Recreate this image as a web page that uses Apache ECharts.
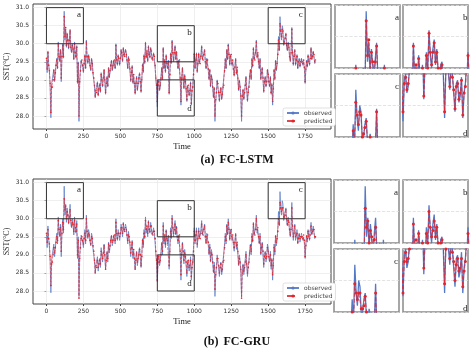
<!DOCTYPE html>
<html><head><meta charset="utf-8">
<script src="https://cdn.jsdelivr.net/npm/echarts@6/dist/echarts.min.js"></script>
<style>html,body{margin:0;padding:0;background:#fff}#c{width:474px;height:349px}</style>
</head><body><div id="c"></div>
<script>
// ---- data (time step of 5) ----
const timeStart = 0;
const timeStep = 5;
const observed = [
29.55,29.2,29.8,29.45,29.2,28.8,27.95,28.9,28.85,28.95,29.3,28.95,29.15,29.45,29.6,29.3,30.05,29.6,29.5,29.85,
28.95,29.7,30.0,29.6,30.9,30.1,30.4,29.9,30.3,30.05,29.85,30.15,30.4,29.85,29.75,30.0,29.9,29.55,30.05,29.7,
29.6,29.95,28.9,29.5,27.85,29.0,29.3,29.55,29.6,29.35,29.2,29.5,29.7,29.3,30.1,29.6,29.45,29.7,29.6,29.35,
29.25,29.6,29.5,29.15,29.0,28.8,28.5,28.75,28.7,28.95,28.55,28.8,28.9,28.65,29.2,28.95,28.8,29.1,29.3,28.95,
28.6,28.95,29.1,28.8,29.35,29.05,29.2,29.45,29.55,29.25,29.35,29.55,29.6,29.3,30.0,29.5,29.4,29.7,29.65,29.4,
29.55,29.85,29.8,29.5,29.9,29.65,29.6,29.85,29.75,29.5,29.3,29.65,29.6,29.25,28.95,29.2,29.4,28.9,29.1,28.85,
28.6,28.95,29.1,28.7,28.85,29.1,29.2,28.9,28.65,29.0,29.45,29.2,29.7,29.45,30.05,29.6,29.75,29.5,29.95,29.7,
29.6,29.9,29.85,29.55,29.5,29.75,29.7,29.35,29.0,28.8,28.25,28.9,29.0,28.7,28.8,29.1,29.35,29.0,29.9,29.3,
29.5,29.2,29.7,29.4,29.3,29.55,28.6,29.2,29.75,29.45,30.1,29.7,29.5,29.8,29.95,29.55,29.8,29.45,29.3,29.55,
29.6,29.0,28.3,29.1,29.35,29.0,28.75,29.15,29.0,28.7,28.4,28.85,28.9,28.55,28.65,28.95,28.3,28.7,28.85,29.2,
29.75,29.3,29.5,29.75,29.2,29.5,29.75,29.45,29.4,29.7,29.95,29.55,29.5,29.75,29.85,29.45,29.3,29.6,29.6,29.25,
29.0,29.3,28.8,29.15,29.05,28.75,28.5,28.8,27.85,28.4,28.7,29.0,28.95,28.6,28.4,28.7,28.8,28.45,28.55,28.85,
28.9,29.3,29.6,29.3,29.85,29.55,30.0,29.7,29.4,29.7,29.75,29.4,29.5,29.25,29.1,29.4,29.6,29.15,29.3,29.0,
28.7,29.0,28.85,28.5,27.85,28.6,28.75,28.45,28.6,28.9,29.1,28.7,28.4,28.7,28.85,29.15,29.3,29.0,29.6,29.35,
29.9,29.55,29.5,29.8,30.1,29.6,29.7,29.45,29.3,29.6,29.0,29.25,29.35,29.0,28.65,29.0,29.1,28.8,28.9,29.3,
29.2,28.9,28.8,29.1,28.6,28.9,28.3,28.8,29.3,29.0,29.55,29.25,29.4,29.75,30.2,29.8,30.75,30.3,30.1,30.5,
30.4,29.95,30.0,30.2,30.3,29.9,29.8,30.05,29.95,29.6,29.5,29.8,30.45,29.7,29.4,29.7,29.85,29.4,29.5,29.7,
29.3,29.5,29.6,29.35,29.45,29.6,29.55,29.4,29.5,29.3,28.9,29.3,29.55,29.35,29.7,29.5,29.4,29.65,29.9,29.55,
29.6,29.8,29.75,29.45,29.5
];
const predLSTM = [
29.6,29.3,29.75,29.4,29.25,28.9,28.1,28.8,28.8,29.0,29.25,29.0,29.2,29.4,29.55,29.35,30.0,29.65,29.55,29.8,
29.05,29.65,29.95,29.65,30.75,30.2,30.45,29.95,30.25,30.1,29.9,30.1,30.35,29.9,29.8,29.95,29.85,29.6,30.0,29.75,
29.65,29.9,28.95,29.45,28.0,28.95,29.25,29.5,29.55,29.4,29.25,29.45,29.65,29.35,30.05,29.65,29.5,29.65,29.55,29.4,
29.3,29.55,29.45,29.2,29.05,28.85,28.55,28.7,28.65,28.9,28.6,28.75,28.85,28.7,29.15,29.0,28.85,29.05,29.25,29.0,
28.65,28.9,29.05,28.85,29.3,29.1,29.25,29.4,29.5,29.3,29.4,29.5,29.55,29.35,29.95,29.55,29.45,29.65,29.6,29.45,
29.6,29.8,29.75,29.55,29.85,29.7,29.65,29.8,29.7,29.55,29.35,29.6,29.55,29.3,29.0,29.2,29.35,28.95,29.15,28.9,
28.65,28.9,29.05,28.75,28.9,29.05,29.15,28.95,28.7,29.0,29.4,29.25,29.65,29.5,30.0,29.65,29.8,29.55,29.9,29.7,
29.65,29.85,29.8,29.6,29.55,29.7,29.65,29.4,29.05,28.85,28.4,28.85,28.95,28.75,28.85,29.05,29.3,29.05,29.85,29.35,
29.55,29.25,29.65,29.45,29.35,29.5,28.65,29.15,29.7,29.5,30.05,29.75,29.55,29.75,29.9,29.6,29.75,29.5,29.35,29.5,
29.55,29.05,28.4,29.05,29.3,29.05,28.8,29.1,28.95,28.75,28.45,28.8,28.85,28.6,28.7,28.9,28.35,28.7,28.8,29.15,
29.7,29.35,29.55,29.7,29.25,29.45,29.7,29.5,29.45,29.65,29.9,29.6,29.55,29.7,29.8,29.5,29.35,29.55,29.55,29.3,
29.05,29.25,28.85,29.1,29.0,28.8,28.55,28.75,28.0,28.45,28.65,28.95,28.9,28.65,28.45,28.65,28.75,28.5,28.6,28.8,
28.85,29.25,29.55,29.35,29.8,29.6,29.95,29.7,29.45,29.65,29.7,29.45,29.55,29.3,29.15,29.35,29.55,29.2,29.35,29.05,
28.75,28.95,28.8,28.55,28.0,28.55,28.7,28.5,28.65,28.85,29.05,28.75,28.45,28.65,28.8,29.1,29.25,29.05,29.55,29.4,
29.85,29.6,29.55,29.75,30.05,29.65,29.75,29.5,29.35,29.55,29.05,29.2,29.3,29.05,28.7,28.95,29.05,28.85,28.95,29.25,
29.15,28.95,28.85,29.05,28.65,28.85,28.4,28.75,29.25,29.05,29.5,29.3,29.45,29.7,30.1,29.85,30.55,30.35,30.2,30.4,
30.35,30.0,30.05,30.15,30.25,29.95,29.85,30.0,29.9,29.65,29.55,29.75,30.4,29.75,29.45,29.65,29.8,29.45,29.55,29.65,
29.35,29.5,29.55,29.4,29.5,29.55,29.5,29.45,29.55,29.35,28.95,29.3,29.5,29.4,29.65,29.5,29.45,29.6,29.85,29.6,
29.65,29.75,29.7,29.5,29.55
];
const predGRU = [
29.6,29.35,29.7,29.45,29.3,28.95,28.15,28.75,28.8,29.0,29.2,29.05,29.2,29.35,29.5,29.4,29.95,29.7,29.55,29.75,
29.1,29.6,29.9,29.7,30.55,30.25,30.35,30.0,30.2,30.1,29.9,30.05,30.25,29.95,29.8,29.9,29.85,29.65,29.95,29.75,
29.65,29.85,29.0,29.4,27.8,28.9,29.2,29.45,29.5,29.4,29.3,29.45,29.6,29.4,30.0,29.65,29.5,29.6,29.55,29.4,
29.3,29.5,29.45,29.25,29.1,28.85,28.5,28.7,28.65,28.85,28.65,28.75,28.85,28.75,29.1,29.0,28.9,29.05,29.25,29.0,
28.6,28.85,29.05,28.9,29.3,29.15,29.25,29.4,29.5,29.35,29.4,29.5,29.55,29.4,29.9,29.6,29.45,29.6,29.6,29.5,
29.6,29.75,29.75,29.6,29.85,29.7,29.65,29.75,29.7,29.55,29.4,29.55,29.5,29.35,29.05,29.2,29.35,29.0,29.15,28.9,
28.6,28.85,29.05,28.8,28.9,29.0,29.15,29.0,28.7,28.95,29.4,29.3,29.6,29.5,29.95,29.7,29.8,29.6,29.9,29.7,
29.65,29.8,29.8,29.6,29.55,29.65,29.65,29.45,29.1,28.85,28.3,28.8,28.95,28.8,28.85,29.0,29.3,29.1,29.8,29.4,
29.55,29.3,29.65,29.45,29.4,29.5,28.7,29.1,29.65,29.5,30.0,29.75,29.6,29.7,29.85,29.6,29.75,29.5,29.4,29.5,
29.55,29.1,28.45,29.0,29.3,29.1,28.85,29.05,28.95,28.8,28.5,28.75,28.85,28.65,28.7,28.85,28.4,28.65,28.8,29.1,
29.65,29.4,29.55,29.65,29.3,29.45,29.65,29.5,29.45,29.6,29.85,29.6,29.55,29.7,29.8,29.5,29.35,29.5,29.55,29.35,
29.05,29.2,28.85,29.05,29.0,28.8,28.55,28.7,28.05,28.45,28.65,28.9,28.9,28.7,28.5,28.65,28.75,28.55,28.6,28.8,
28.85,29.2,29.5,29.4,29.8,29.6,29.9,29.7,29.45,29.6,29.7,29.5,29.55,29.35,29.2,29.35,29.55,29.25,29.35,29.1,
28.75,28.9,28.8,28.6,27.8,28.5,28.7,28.55,28.65,28.8,29.0,28.75,28.5,28.65,28.8,29.05,29.25,29.1,29.5,29.4,
29.85,29.6,29.55,29.7,30.0,29.7,29.75,29.5,29.35,29.5,29.05,29.2,29.3,29.1,28.75,28.95,29.05,28.9,28.95,29.2,
29.1,28.95,28.85,29.0,28.7,28.85,28.45,28.7,29.2,29.1,29.5,29.35,29.45,29.65,30.0,29.85,30.45,30.3,30.2,30.3,
30.3,30.05,30.05,30.1,30.25,30.0,29.85,29.95,29.9,29.7,29.55,29.7,30.3,29.8,29.5,29.6,29.8,29.5,29.55,29.6,
29.35,29.45,29.55,29.45,29.5,29.5,29.5,29.45,29.55,29.4,28.95,29.25,29.5,29.45,29.65,29.5,29.45,29.55,29.8,29.6,
29.65,29.7,29.7,29.5,29.5
];
const xTickValues = [0,250,500,750,1000,1250,1500,1750];
const yTickValues = [28.0,28.5,29.0,29.5,30.0,30.5,31.0];
const zoomNames = ['a','b','c','d'];
const zoomX = [[0,250],[750,1000],[1500,1750],[750,1000]];
const zoomY = [[30,31],[29.5,30.5],[30,31],[28,29]];
const panelTags = ['(a)','(b)'];
const panelModels = ['FC-LSTM','FC-GRU'];
const seriesNames = ['observed','predicted'];
const xName = 'Time';
const yName = 'SST(°C)';

// ---- layout ----
const time = observed.map((_, i) => timeStart + i * timeStep);
const obsPts = time.map((t, i) => [t, observed[i]]);
const predSets = [predLSTM, predGRU].map(p => time.map((t, i) => [t, p[i]]));

const panels = [
  {mainTop: 4, subA: [335, 5], subB: [403, 5], subC: [335, 74], subD: [403, 74], legendTop: 108, capTop: 146},
  {mainTop: 179, subA: [334, 180], subB: [403, 180], subC: [334, 249], subD: [403, 249], legendTop: 283, capTop: 328}
];
const OBS_COLOR = '#5479c6';
const PRED_COLOR = '#e5232b';
const GRID_LINE = {color: '#e4e4e4', width: 0.6, type: 'solid'};
const grids = [], xAxes = [], yAxes = [], series = [], titles = [], legends = [];

panels.forEach((P, pi) => {
  const gi = grids.length;
  grids.push({left: 33, top: P.mainTop, width: 298, height: 125, show: true, borderColor: '#444', borderWidth: 1,
    containLabel: false, outerBoundsMode: 'none'});
  xAxes.push({gridIndex: gi, type: 'value', min: -91, max: 1925,
    name: xName, nameLocation: 'middle', nameGap: 13, nameMoveOverlap: false,
    nameTextStyle: {fontFamily: 'Liberation Serif', fontSize: 8.5, color: '#222'},
    axisLine: {show: false},
    axisTick: {show: true, length: 2, customValues: xTickValues, lineStyle: {color: '#444'}},
    axisLabel: {fontSize: 6, color: '#333', margin: 4, fontFamily: 'DejaVu Sans', customValues: xTickValues,
      formatter: v => String(v)},
    splitLine: {show: false}});
  yAxes.push({gridIndex: gi, type: 'value', min: 27.64, max: 31.1,
    name: yName, nameLocation: 'middle', nameGap: 22, nameRotate: 90, nameMoveOverlap: false,
    nameTextStyle: {fontFamily: 'Liberation Serif', fontSize: 8, color: '#222'},
    axisLine: {show: false},
    axisTick: {show: true, length: 2, customValues: yTickValues, lineStyle: {color: '#444'}},
    axisLabel: {fontSize: 6, color: '#333', margin: 4, fontFamily: 'DejaVu Sans', customValues: yTickValues,
      formatter: v => v.toFixed(1)},
    splitLine: {show: false}});
  series.push({type: 'line', xAxisIndex: gi, yAxisIndex: gi, data: [], animation: false, z: 1,
    markLine: {silent: true, symbol: 'none', label: {show: false}, lineStyle: GRID_LINE, z: 1,
      data: xTickValues.map(v => ({xAxis: v})).concat(yTickValues.map(v => ({yAxis: v})))}});
  series.push({name: seriesNames[0], type: 'line', xAxisIndex: gi, yAxisIndex: gi, data: obsPts,
    showSymbol: false, symbol: 'none', lineStyle: {color: OBS_COLOR, width: 0.8, opacity: 0.9}, itemStyle: {color: OBS_COLOR}, z: 2, animation: false});
  series.push({name: seriesNames[1], type: 'line', xAxisIndex: gi, yAxisIndex: gi, data: predSets[pi],
    symbol: 'circle', symbolSize: 1.6, lineStyle: {color: PRED_COLOR, width: 0.7, type: 'dashed', opacity: 0.85},
    itemStyle: {color: PRED_COLOR}, z: 3, animation: false});
  series.push({type: 'line', xAxisIndex: gi, yAxisIndex: gi, data: [], animation: false,
    markArea: {silent: true, z: 10,
      itemStyle: {color: 'rgba(0,0,0,0)', borderColor: '#333', borderWidth: 1},
      label: {show: true, fontFamily: 'Liberation Serif', fontSize: 9, color: '#222', position: 'insideTopRight', distance: 3},
      data: zoomNames.map((n, i) => [
        {name: n, xAxis: zoomX[i][0], yAxis: zoomY[i][1], label: {position: n === 'd' ? 'insideBottomRight' : 'insideTopRight'}},
        {xAxis: zoomX[i][1], yAxis: zoomY[i][0]}
      ])}});
  legends.push({show: true, left: 283, top: P.legendTop, orient: 'vertical', data: seriesNames,
    itemWidth: 12, itemHeight: 4, itemGap: 2, padding: [2, 3, 2, 3],
    backgroundColor: '#fff', borderColor: '#ccc', borderWidth: 0.6, borderRadius: 2,
    textStyle: {fontSize: 6, color: '#444', fontFamily: 'DejaVu Sans'}});
  titles.push({text: '{b|' + panelTags[pi] + '} {n|' + panelModels[pi] + '}', left: 'center', top: P.capTop,
    textStyle: {rich: {b: {fontFamily: 'Liberation Serif', fontWeight: 'bold', fontSize: 12, color: '#111'},
                       n: {fontFamily: 'Liberation Serif', fontSize: 12, color: '#111'}}}});

  [P.subA, P.subB, P.subC, P.subD].forEach((pos, k) => {
    const sg = grids.length;
    grids.push({left: pos[0], top: pos[1], width: 65, height: 63, show: true, borderColor: '#8a8a8a', borderWidth: 1.5,
      containLabel: false, outerBoundsMode: 'none'});
    xAxes.push({gridIndex: sg, type: 'value', min: zoomX[k][0], max: zoomX[k][1], interval: 250,
      axisLine: {show: false}, axisTick: {show: false}, axisLabel: {show: false}, splitLine: {show: false}});
    yAxes.push({gridIndex: sg, type: 'value', min: zoomY[k][0], max: zoomY[k][1], interval: 0.5,
      axisLine: {show: false}, axisTick: {show: false}, axisLabel: {show: false},
      splitLine: {show: true, lineStyle: {color: '#dcdcdc', width: 0.8, type: 'dashed'}}});
    series.push({name: seriesNames[0], type: 'line', xAxisIndex: sg, yAxisIndex: sg, data: obsPts, clip: true,
      symbol: 'none', lineStyle: {color: OBS_COLOR, width: 1.3}, itemStyle: {color: OBS_COLOR}, z: 2, animation: false});
    series.push({name: seriesNames[1], type: 'line', xAxisIndex: sg, yAxisIndex: sg, data: predSets[pi], clip: true,
      symbol: 'circle', symbolSize: 3, lineStyle: {color: PRED_COLOR, width: 1, type: 'dashed', opacity: 0.8},
      itemStyle: {color: PRED_COLOR}, z: 3, animation: false});
    const isD = zoomNames[k] === 'd';
    titles.push({text: zoomNames[k], left: pos[0] + 55, top: isD ? pos[1] + 50 : pos[1] + 3,
      textStyle: {fontFamily: 'Liberation Serif', fontSize: 9, fontWeight: 'normal', color: '#222'}});
  });
});

const chart = echarts.init(document.getElementById('c'), null, {renderer: 'canvas'});
chart.setOption({
  animation: false,
  backgroundColor: '#fff',
  title: titles,
  legend: legends,
  grid: grids,
  xAxis: xAxes,
  yAxis: yAxes,
  series: series
});
</script>
</body></html>
